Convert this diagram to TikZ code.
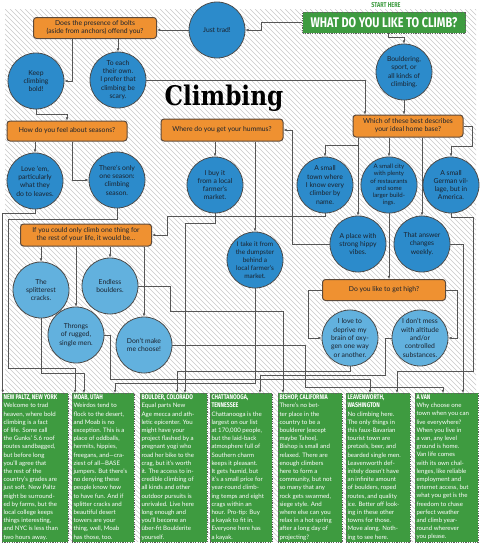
\documentclass[tikz,border=0pt]{standalone}
\usepackage{fontspec}
\usepackage{tikz}
\usetikzlibrary{arrows.meta}
\newfontfamily\latof{Lato}
\newfontfamily\condf[FakeStretch=0.78]{Fira Sans}
\newfontfamily\titlef[FakeStretch=0.86]{DejaVu Serif}
\definecolor{qorange}{RGB}{239,145,49}
\definecolor{qedge}{RGB}{92,74,60}
\definecolor{ansblue}{RGB}{44,139,203}
\definecolor{anslight}{RGB}{98,177,222}
\definecolor{citygreen}{RGB}{62,155,64}
\definecolor{linegray}{RGB}{85,85,85}
\definecolor{hatchc}{RGB}{200,200,200}
\definecolor{inkc}{RGB}{26,34,46}
\newcommand{\citytext}[3]{\parbox[t][146pt][t]{#1}{\raggedright\latof\fontsize{6.1}{8.2}\selectfont{\condf\bfseries\fontsize{6.8}{8.2}\selectfont #2}\\#3}}

\begin{document}
\begin{tikzpicture}[x=1pt,y=1pt,>={Latex[length=3.2pt,width=2.6pt]},
  quest/.style={draw=qedge,line width=1pt,fill=qorange,rounded corners=3pt,align=center,inner sep=1pt,text=inkc,font=\latof\fontsize{6.8}{8}\selectfont},
  ans/.style={circle,draw=gray!60!black,line width=.8pt,fill=ansblue,minimum size=56pt,inner sep=0pt,align=center,text=inkc,font=\latof\fontsize{6.8}{8.3}\selectfont},
  anslt/.style={ans,fill=anslight},
  citybox/.style={draw=gray!75!black,dash pattern=on 1.2pt off 1.2pt,line width=.6pt,fill=citygreen,anchor=north,inner sep=1.5pt,text=white},
  conn/.style={->,draw=linegray,line width=.5pt}]
\useasboundingbox (0,0) rectangle (480,-544);
\begin{scope}
\clip (5,-9) rectangle (476,-541);
\foreach \i in {-540,-535,...,480}{\draw[hatchc,line width=.4pt] (\i,-9) -- ++(540,-540);}
\end{scope}
% questions
\node[text=citygreen,font=\condf\bfseries\fontsize{7}{7}\selectfont] (starthere) at (386,-5) {START HERE};
\node[fill=citygreen,draw=gray!75!black,dash pattern=on 1.2pt off 1.2pt,minimum width=163pt,minimum height=21pt,inner sep=0pt,text=white,font=\condf\bfseries\fontsize{14}{14}\selectfont] (climb) at (384,-22.5) {WHAT DO YOU LIKE TO CLIMB?};
\node[font=\titlef\bfseries\fontsize{27}{27}\selectfont] (title) at (224,-98) {Climbing};
\node[quest,minimum width=123pt,minimum height=21pt] (bolts) at (95,-28) {Does the presence of bolts\\(aside from anchors) offend you?};
\node[quest,minimum width=120pt,minimum height=20pt] (seasons) at (67,-131) {How do you feel about seasons?};
\node[quest,minimum width=122pt,minimum height=22pt] (hummus) at (222,-130) {Where do you get your hummus?};
\node[quest,minimum width=110pt,minimum height=22pt] (homebase) at (408,-126) {Which of these best describes\\your ideal home base?};
\node[quest,minimum width=131pt,minimum height=22pt] (onething) at (86,-235) {If you could only climb one thing for\\the rest of your life, it would be\dots};
\node[quest,minimum width=123pt,minimum height=21pt] (high) at (384,-290) {Do you like to get high?};
% answers
\node[ans] (justtrad) at (217,-30) {Just trad!};
\node[ans] (keepbold) at (36,-81) {Keep\\climbing\\bold!};
\node[ans] (toeach) at (118,-80) {To each\\their own.\\I prefer that\\climbing be\\scary.};
\node[ans] (bouldering) at (404,-72) {Bouldering,\\sport, or\\all kinds of\\climbing.};
\node[ans] (loveem) at (35,-181) {Love ’em,\\particularly\\what they\\do to leaves.};
\node[ans] (onlyone) at (117,-180) {There’s only\\one season:\\climbing\\season.};
\node[ans] (ibuy) at (215,-185) {I buy it\\from a local\\farmer’s\\market.};
\node[ans] (smalltown) at (325,-185) {A small\\town where\\I know every\\climber by\\name.};
\node[ans,font=\latof\fontsize{6.1}{7.3}\selectfont] (smallcity) at (389,-185) {A small city\\with plenty\\of restaurants\\and some\\larger build-\\ings.};
\node[ans] (german) at (451,-185) {A small\\German vil-\\lage, but in\\America.};
\node[ans] (hippy) at (358,-244) {A place with\\strong hippy\\vibes.};
\node[ans] (answer) at (422,-244) {That answer\\changes\\weekly.};
\node[ans,font=\latof\fontsize{6.5}{8}\selectfont] (dumpster) at (255,-260) {I take it from\\the dumpster\\behind a\\local farmer’s\\market.};
\node[anslt] (splitterest) at (41,-290) {The\\splitterest\\cracks.};
\node[anslt] (endless) at (110,-286) {Endless\\boulders.};
\node[anslt] (throngs) at (76,-335) {Throngs\\of rugged,\\single men.};
\node[anslt] (dontchoose) at (144,-345) {Don’t make\\me choose!};
\node[anslt] (ilove) at (350,-338) {I love to\\deprive my\\brain of oxy-\\gen one way\\or another.};
\node[anslt] (idontmess) at (420,-338) {I don’t mess\\with altitude\\and/or\\controlled\\substances.};
% towns
\node[citybox] (newpaltz) at (35,-393) {\citytext{63pt}{NEW PALTZ, NEW YORK}{Welcome to trad\\heaven, where bold\\climbing is a fact\\of life. Some call\\the Gunks’ 5.6 roof\\routes sandbagged,\\but before long\\you’ll agree that\\the rest of the\\country’s grades are\\just soft. New Paltz\\might be surround-\\ed by farms, but the\\local college keeps\\things interesting,\\and NYC is less than\\two hours away.}};
\node[citybox] (moab) at (103,-393) {\citytext{59pt}{MOAB, UTAH}{Weirdos tend to\\flock to the desert,\\and Moab is no\\exception. This is a\\place of oddballs,\\hermits, hippies,\\freegans, and—cra-\\ziest of all—BASE\\jumpers. But there’s\\no denying these\\people know how\\to have fun. And if\\splitter cracks and\\beautiful desert\\towers are your\\thing, well, Moab\\has those, too.}};
\node[citybox] (boulder) at (173.5,-393) {\citytext{64pt}{BOULDER, COLORADO}{Equal parts New\\Age mecca and ath-\\letic epicenter. You\\might have your\\project flashed by a\\pregnant yogi who\\road her bike to the\\crag, but it’s worth\\it. The access to in-\\credible climbing of\\all kinds and other\\outdoor pursuits is\\unrivaled. Live here\\long enough and\\you’ll become an\\über-fit Boulderite\\yourself.}};
\node[citybox] (chatt) at (241,-393) {\citytext{59pt}{CHATTANOOGA,\\TENNESSEE}{Chattanooga is the\\largest on our list\\at 170,000 people,\\but the laid-back\\atmosphere full of\\Southern charm\\keeps it pleasant.\\It gets humid, but\\it’s a small price for\\year-round climb-\\ing temps and eight\\crags within an\\hour. Pro-tip: Buy\\a kayak to fit in.\\Everyone here has\\a kayak.}};
\node[citybox] (bishop) at (310,-393) {\citytext{61pt}{BISHOP, CALIFORNIA}{There’s no bet-\\ter place in the\\country to be a\\boulderer (except\\maybe Tahoe).\\Bishop is small and\\relaxed. There are\\enough climbers\\here to form a\\community, but not\\so many that any\\rock gets swarmed,\\siege style. And\\where else can you\\relax in a hot spring\\after a long day of\\projecting?}};
\node[citybox] (leaven) at (378,-393) {\citytext{61pt}{LEAVENWORTH,\\WASHINGTON}{No climbing here.\\The only things in\\this faux-Bavarian\\tourist town are\\pretzels, beer, and\\bearded single men.\\Leavenworth def-\\initely doesn’t have\\an infinite amount\\of boulders, roped\\routes, and quality\\ice. Better off look-\\ing in these other\\towns for those.\\Move along. Noth-\\ing to see here.}};
\node[citybox] (van) at (446.5,-393) {\citytext{60pt}{A VAN}{Why choose one\\town when you can\\live everywhere?\\When you live in\\a van, any level\\ground is home.\\Van life comes\\with its own chal-\\lenges, like reliable\\employment and\\internet access, but\\what you get is the\\freedom to chase\\perfect weather\\and climb year-\\round wherever\\you please.}};
% connectors
\draw[conn] (climb.west) -- ++(-41,0) |- (justtrad.east);
\draw[conn] ([xshift=4pt]climb.south) -- ++(0,-4) -| (bouldering.north);
\draw[conn] (bouldering.south) -- (bouldering.south |- homebase.north);
\draw[conn] (justtrad.west) -- (justtrad.west -| bolts.east);
\draw[conn] (toeach.north |- bolts.south) -- (toeach.north);
\draw[conn] ([xshift=-23pt]bolts.south) |- (keepbold.east);
\draw[conn] (keepbold.south) -- ++(0,-5) -| (seasons.north);
\draw[conn] (toeach.east) -| ([xshift=-43pt]homebase.north);
\draw[conn] (loveem.north |- seasons.south) -- (loveem.north);
\draw[conn] ([xshift=5pt]seasons.south) |- (onlyone.west);
\draw[conn] (ibuy.north |- hummus.south) -- (ibuy.north);
\draw[conn] (dumpster.north |- hummus.south) -- (dumpster.north);
\draw[conn] (hippy.north |- homebase.south) -- (hippy.north);
\draw[conn] (hippy.north |- homebase.south) -- ++(0,-8) -| (smalltown.north);
\draw[conn] (smallcity.north |- homebase.south) -- (smallcity.north);
\draw[conn] (answer.north |- homebase.south) -- (answer.north);
\draw[conn] (homebase.east) -- ++(9,0) -- ++(0,-20) -| (german.north);
\draw[conn] (hippy.west) -- ++(-37,0) |- (hummus.east);
\draw[conn] (smallcity.south) -- (smallcity.south |- high.north);
\draw[conn] (smalltown.south) -- ++(0,-3) -| ([xshift=15pt]onething.east) -- (onething.east);
\draw[conn] (ibuy.south) -- ++(0,-10) -| ([xshift=11.5pt]boulder.north);
\draw[conn] (dumpster.south) -- ++(0,-95) -| ([xshift=12pt]moab.north);
\draw[conn] (loveem.south) -- ++(0,-4) -| ([xshift=1pt]newpaltz.north west);
\draw[conn] (onlyone.south) -- ++(0,-11) -| (8,-368) -| ([xshift=-28pt]moab.north);
\draw[conn] (splitterest.north |- onething.south) -- (splitterest.north);
\draw[conn] (throngs.north |- onething.south) -- (throngs.north);
\draw[conn] (endless.north |- onething.south) -- (endless.north);
\draw[conn] (dontchoose.north |- onething.south) -- (dontchoose.north);
\draw[conn] (splitterest.south) -- ++(0,-55) -| ([xshift=-19pt]moab.north);
\draw[conn] (throngs.east) -- ++(6,0) -- ++(0,-44) -| ([xshift=-8pt]leaven.north);
\draw[conn] (endless.east) -- ++(32,0) -- ++(0,-25) -| ([xshift=-27pt]bishop.north);
\draw[conn] (dontchoose.east) -- ++(133,0) -- ++(0,-42) -| ([xshift=-3.5pt]van.north);
\draw[conn] (high.west) -- ++(-14,0) |- (ilove.west);
\draw[conn] (high.east) -- ++(11,0) |- (idontmess.east);
\draw[conn] (ilove.south) -- ++(0,-5) -| ([xshift=3.5pt]boulder.north);
\draw[conn] (idontmess.west) -- ++(-6,0) -- ++(0,-37) -| ([xshift=19pt]chatt.north);
\draw[conn] (german.south) -- ++(0,-4) -- ++(22,0) -- ++(0,-154) -| ([xshift=19pt]leaven.north);
\draw[conn] (answer.east) -| ([xshift=16.5pt]van.north);
\end{tikzpicture}
\end{document}
